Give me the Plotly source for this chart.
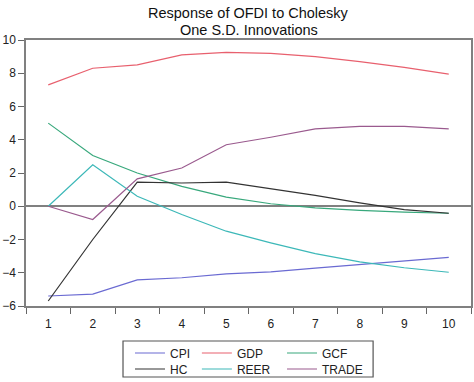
import plotly.graph_objects as go

periods = ["1", "2", "3", "4", "5", "6", "7", "8", "9", "10"]
cpi = [-5.4, -5.28, -4.43, -4.3, -4.07, -3.95, -3.72, -3.5, -3.28, -3.07]
gdp = [7.3, 8.3, 8.5, 9.1, 9.25, 9.2, 9.0, 8.7, 8.35, 7.95]
gcf = [5.0, 3.05, 2.0, 1.2, 0.55, 0.15, -0.1, -0.25, -0.35, -0.42]
hc = [-5.7, -2.0, 1.45, 1.4, 1.45, 1.05, 0.65, 0.2, -0.2, -0.42]
reer = [0.0, 2.5, 0.6, -0.5, -1.5, -2.2, -2.85, -3.35, -3.7, -3.97]
trade = [0.0, -0.8, 1.65, 2.3, 3.7, 4.15, 4.65, 4.8, 4.8, 4.65]
y_ticks = [-6, -4, -2, 0, 2, 4, 6, 8, 10]
title_lines = ["Response of OFDI to Cholesky", "One S.D. Innovations"]

series = [
    ("CPI", cpi, "#6a6ad2"),
    ("GDP", gdp, "#e8606e"),
    ("GCF", gcf, "#38a87c"),
    ("HC", hc, "#333333"),
    ("REER", reer, "#3cb8b8"),
    ("TRADE", trade, "#9a5a8e"),
]

family = "Liberation Sans, Arial, sans-serif"
font = dict(family=family, size=12, color="#222222")

# legend grid: 3 columns x 2 rows (one single-entry legend per cell)
col_x = [0.2337, 0.384, 0.5753]
row_y = [-0.1767, -0.2368]

fig = go.Figure()
layout_legends = {}
for i, (name, vals, color) in enumerate(series):
    key = "legend" if i == 0 else f"legend{i + 1}"
    fig.add_trace(go.Scatter(x=periods, y=vals, name=name, mode="lines",
                             line=dict(color=color, width=1.2), legend=key))
    layout_legends[key] = dict(x=col_x[i % 3], y=row_y[i // 3], xanchor="left",
                               yanchor="middle", orientation="h",
                               bgcolor="rgba(0,0,0,0)", borderwidth=0, font=font,
                               itemwidth=30)

fig.update_layout(
    width=474, height=400,
    margin=dict(l=26, r=3, t=40, b=94),
    paper_bgcolor="white", plot_bgcolor="white",
    font=font,
    showlegend=True,
    xaxis=dict(type="category", range=[-0.5, 9.5], tickson="boundaries",
               ticks="outside", ticklen=6, ticklabelstandoff=6, automargin=False,
               tickcolor="#666666", showline=True, linecolor="#808080", linewidth=1.5,
               mirror=True, showgrid=False, zeroline=False, tickfont=font),
    yaxis=dict(range=[-6, 10], tickvals=y_ticks, ticks="outside", ticklen=6,
               automargin=False,
               tickcolor="#666666", showline=True, linecolor="#808080", linewidth=1.5,
               mirror=True, showgrid=False, zeroline=True, zerolinecolor="#808080",
               zerolinewidth=1.5, tickfont=font),
    annotations=[
        dict(text=title_lines[0], x=0.5, y=1.102, xref="paper", yref="paper",
             xanchor="center", yanchor="middle", showarrow=False,
             font=dict(family=family, size=14.5, color="#111111")),
        dict(text=title_lines[1], x=0.5, y=1.038, xref="paper", yref="paper",
             xanchor="center", yanchor="middle", showarrow=False,
             font=dict(family=family, size=14.5, color="#111111")),
    ],
    shapes=[dict(type="rect", xref="paper", yref="paper", x0=0.218, x1=0.780,
                 y0=-0.2669, y1=-0.1316, line=dict(color="#555555", width=1.2))],
    **layout_legends,
)

fig.write_html(
    "out.html",
    config={"displayModeBar": False},
    post_script="document.body.style.margin='0';document.body.style.overflow='hidden';",
)
